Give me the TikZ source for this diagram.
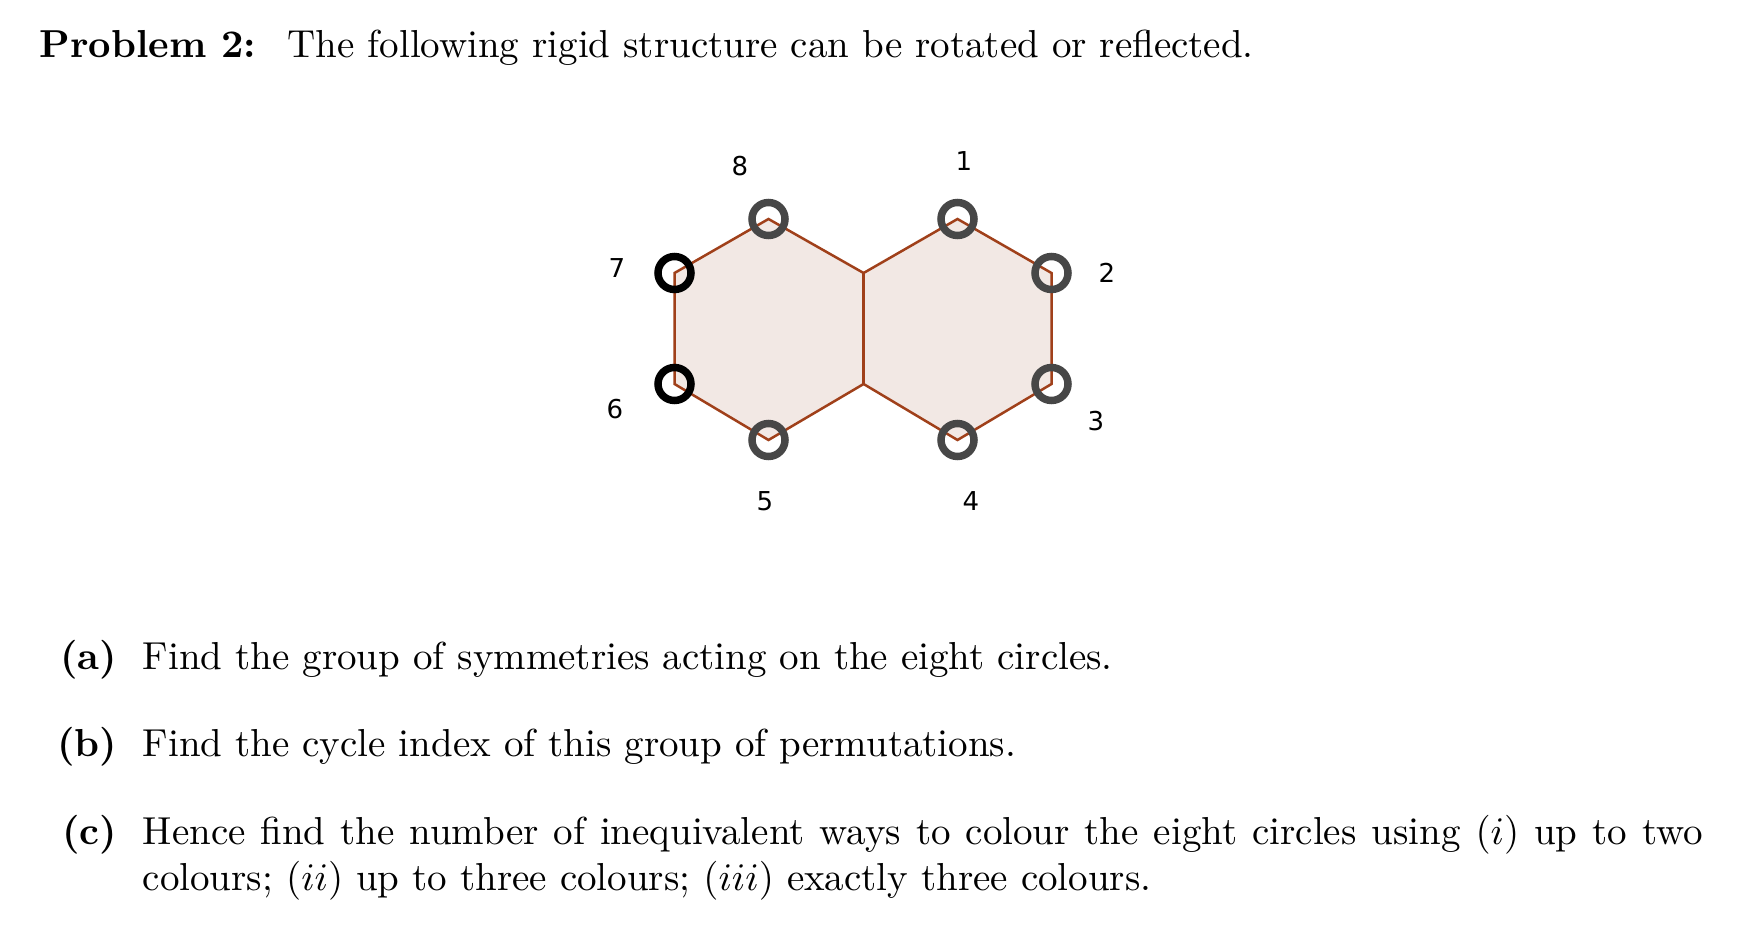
\documentclass[tikz,border=0pt]{standalone}
\usepackage{fontspec}
\newfontfamily\lblfont{DejaVu Sans}
\tikzset{
 edge/.style={draw=edgec,line width=2.5pt},
 vtx/.style={circle,draw=circc,line width=7.5pt,minimum size=33pt,inner sep=0pt},
 vtxb/.style={vtx,draw=black},
 lbl/.style={font=\lblfont\fontsize{26}{30}\selectfont,inner sep=0pt},
 txt/.style={anchor=base west,inner sep=0pt,font=\normalsize,scale=3.9},
}
\definecolor{edgec}{HTML}{A0401A}
\definecolor{fillc}{HTML}{F2E8E4}
\definecolor{circc}{HTML}{474747}
\begin{document}
\begin{tikzpicture}[x=1pt,y=-1pt]
\useasboundingbox (0,0) rectangle (1754,944);
\node[txt] (title) at (39,58) {\textbf{Problem 2:}\hspace{0.8em}The following rigid structure can be rotated or reflected.};
% hexagon coordinates
\coordinate (L1) at (674.5,273); \coordinate (L8) at (768.5,219);
\coordinate (CT) at (863.6,273); \coordinate (CB) at (863.6,384);
\coordinate (L5) at (768.5,440); \coordinate (L6) at (674.5,384);
\coordinate (R1) at (957.5,219); \coordinate (R2) at (1051.5,273);
\coordinate (R3) at (1051.5,384); \coordinate (R4) at (957.5,440);
\fill[fillc] (L1)--(L8)--(CT)--(R1)--(R2)--(R3)--(R4)--(CB)--(L5)--(L6)--cycle;
\draw[edge] (L1)--(L8)--(CT)--(R1)--(R2)--(R3)--(R4)--(CB)--(L5)--(L6)--cycle;
\draw[edge] (CT)--(CB);
\node[vtx] (c1) at (R1) {}; \node[vtx] (c2) at (R2) {};
\node[vtx] (c3) at (R3) {}; \node[vtx] (c4) at (R4) {};
\node[vtx] (c5) at (L5) {}; \node[vtxb] (c6) at (L6) {};
\node[vtxb] (c7) at (L1) {}; \node[vtx] (c8) at (L8) {};
\node[lbl] (n1) at (964,161) {1};
\node[lbl] (n2) at (1107,273) {2};
\node[lbl] (n3) at (1096,421) {3};
\node[lbl] (n4) at (971,501) {4};
\node[lbl] (n5) at (765,501) {5};
\node[lbl] (n6) at (615,409) {6};
\node[lbl] (n7) at (617,268) {7};
\node[lbl] (n8) at (740,166) {8};
\node[txt,anchor=base east] (la) at (118,669) {\textbf{(a)}};
\node[txt] (ta) at (142,669) {Find the group of symmetries acting on the eight circles.};
\node[txt,anchor=base east] (lb) at (118,756) {\textbf{(b)}};
\node[txt] (tb) at (142,756) {Find the cycle index of this group of permutations.};
\node[txt,anchor=base east] (lc) at (118,844) {\textbf{(c)}};
\node[txt,anchor=base west,text width=400pt,align=justify] (tc) at (142,844) {Hence find the number of inequivalent ways to colour the eight circles using $(i)$ up to two colours; $(ii)$ up to three colours; $(iii)$ exactly three colours.};
\end{tikzpicture}
\end{document}
